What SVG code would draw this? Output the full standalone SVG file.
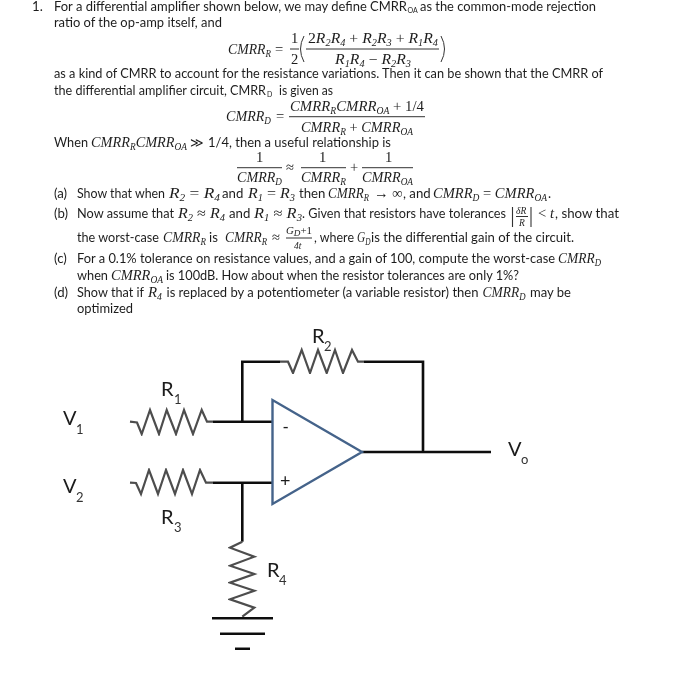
<svg xmlns="http://www.w3.org/2000/svg" width="700" height="679" viewBox="0 0 700 679">
<style>
text{fill:#1e1e1e;white-space:pre}
.t{font:13.2px Lato,"Open Sans",sans-serif}
.m{font:italic 14.6px "Liberation Serif",serif}
.u{font:14.6px "Liberation Serif",serif}
.f{font:italic 9.5px "Liberation Serif",serif}
.l{font:20px Lato,"Open Sans",sans-serif;fill:#1a1a1a}
.ls{font:13px Lato,"Open Sans",sans-serif;fill:#333}
.w{fill:none;stroke:#111;stroke-width:2.6}
.z{fill:none;stroke:#4d4d4d;stroke-width:2.2}
.b{stroke:#333;stroke-width:1;fill:none}
.sub{font-size:9.5px}
.ss{font-size:8px}
.o{font-size:7px}
</style>
<defs><filter id="soft" x="-2%" y="-2%" width="104%" height="104%"><feGaussianBlur stdDeviation="0.3"/></filter></defs>
<rect width="700" height="679" fill="#fff"/>
<g id="problem-text" filter="url(#soft)">
<text class="t" x="32" y="11">1.</text>
<text class="t" x="54" y="11" textLength="353" lengthAdjust="spacingAndGlyphs">For a differential amplifier shown below, we may define CMRR</text>
<text class="t o" x="407.5" y="13">OA</text>
<text class="t" x="420" y="11" textLength="176" lengthAdjust="spacingAndGlyphs">as the common-mode rejection</text>
<text class="t" x="54" y="27" textLength="168" lengthAdjust="spacingAndGlyphs">ratio of the op-amp itself, and</text>

<text class="m" x="228" y="54" textLength="43" lengthAdjust="spacingAndGlyphs">CMRR<tspan class="sub" dy="3">R</tspan></text>
<text class="u" x="275" y="54">=</text>
<text class="u" x="291" y="43">1</text><text class="u" x="291" y="64">2</text>
<path class="b" d="M290 49h9M306 49h133"/>
<path class="b" d="M304 36Q297 49 304 62M441 36Q448 49 441 62"/>
<text class="m" x="308" y="43" textLength="130" lengthAdjust="spacingAndGlyphs"><tspan class="u">2</tspan>R<tspan class="sub" dy="3">2</tspan><tspan dy="-3">R</tspan><tspan class="sub" dy="3">4</tspan><tspan class="u" dy="-3"> + </tspan>R<tspan class="sub" dy="3">2</tspan><tspan dy="-3">R</tspan><tspan class="sub" dy="3">3</tspan><tspan class="u" dy="-3"> + </tspan>R<tspan class="sub" dy="3">1</tspan><tspan dy="-3">R</tspan><tspan class="sub" dy="3">4</tspan></text>
<text class="m" x="335" y="64" textLength="76" lengthAdjust="spacingAndGlyphs">R<tspan class="sub" dy="3">1</tspan><tspan dy="-3">R</tspan><tspan class="sub" dy="3">4</tspan><tspan class="u" dy="-3"> − </tspan>R<tspan class="sub" dy="3">2</tspan><tspan dy="-3">R</tspan><tspan class="sub" dy="3">3</tspan></text>

<text class="t" x="54" y="78" textLength="549" lengthAdjust="spacingAndGlyphs">as a kind of CMRR to account for the resistance variations. Then it can be shown that the CMRR of</text>
<text class="t" x="54" y="95" textLength="212" lengthAdjust="spacingAndGlyphs">the differential amplifier circuit, CMRR</text>
<text class="t o" x="267" y="97">D</text>
<text class="t" x="279" y="95" textLength="54" lengthAdjust="spacingAndGlyphs">is given as</text>

<text class="m" x="226" y="121" textLength="45" lengthAdjust="spacingAndGlyphs">CMRR<tspan class="sub" dy="3">D</tspan></text>
<text class="u" x="276" y="121">=</text>
<path class="b" d="M289 116.7h136"/>
<text class="m" x="290" y="111" textLength="134" lengthAdjust="spacingAndGlyphs">CMRR<tspan class="sub" dy="3">R</tspan><tspan dy="-3">CMRR</tspan><tspan class="sub" dy="3">OA</tspan><tspan class="u" dy="-3"> + 1/4</tspan></text>
<text class="m" x="301" y="132" textLength="112" lengthAdjust="spacingAndGlyphs">CMRR<tspan class="sub" dy="3">R</tspan><tspan class="u" dy="-3"> + </tspan>CMRR<tspan class="sub" dy="3">OA</tspan></text>

<text class="t" x="54" y="147" textLength="34" lengthAdjust="spacingAndGlyphs">When</text>
<text class="m" x="91" y="147" textLength="96" lengthAdjust="spacingAndGlyphs">CMRR<tspan class="sub" dy="3">R</tspan><tspan dy="-3">CMRR</tspan><tspan class="sub" dy="3">OA</tspan></text>
<text class="u" x="190" y="147" style="font-size:13px">≫</text>
<text class="t" x="208" y="147" textLength="183" lengthAdjust="spacingAndGlyphs">1/4, then a useful relationship is</text>

<text class="u" x="256" y="162">1</text><text class="u" x="319" y="162">1</text><text class="u" x="385" y="162">1</text>
<path class="b" d="M237 167.7h45M301 167.7h45M362 167.7h51"/>
<text class="m" x="237" y="182" textLength="45" lengthAdjust="spacingAndGlyphs">CMRR<tspan class="sub" dy="3">D</tspan></text>
<text class="u" x="286" y="172">≈</text>
<text class="m" x="301" y="182" textLength="45" lengthAdjust="spacingAndGlyphs">CMRR<tspan class="sub" dy="3">R</tspan></text>
<text class="u" x="350" y="172">+</text>
<text class="m" x="362" y="182" textLength="51" lengthAdjust="spacingAndGlyphs">CMRR<tspan class="sub" dy="3">OA</tspan></text>

<text class="t" x="54" y="198">(a)</text>
<text class="t" x="77" y="198" textLength="88" lengthAdjust="spacingAndGlyphs">Show that when</text>
<text class="m" x="169" y="198" textLength="51" lengthAdjust="spacingAndGlyphs">R<tspan class="sub" dy="3">2</tspan><tspan class="u" dy="-3"> = </tspan>R<tspan class="sub" dy="3">4</tspan></text>
<text class="t" x="222" y="198">and</text>
<text class="m" x="248" y="198" textLength="47" lengthAdjust="spacingAndGlyphs">R<tspan class="sub" dy="3">1</tspan><tspan class="u" dy="-3"> = </tspan>R<tspan class="sub" dy="3">3</tspan></text>
<text class="t" x="299" y="198">then</text>
<text class="m" x="328" y="198" textLength="41" lengthAdjust="spacingAndGlyphs">CMRR<tspan class="sub" dy="3">R</tspan></text>
<text class="u" x="374" y="198">→ ∞</text>
<text class="t" x="403" y="198">, and</text>
<text class="m" x="433" y="198" textLength="114" lengthAdjust="spacingAndGlyphs">CMRR<tspan class="sub" dy="3">D</tspan><tspan class="u" dy="-3"> = </tspan>CMRR<tspan class="sub" dy="3">OA</tspan></text>
<text class="t" x="548" y="198">.</text>

<text class="t" x="54" y="218">(b)</text>
<text class="t" x="77" y="218" textLength="97" lengthAdjust="spacingAndGlyphs">Now assume that</text>
<text class="m" x="178" y="218" textLength="47" lengthAdjust="spacingAndGlyphs">R<tspan class="sub" dy="3">2</tspan><tspan class="u" dy="-3"> ≈ </tspan>R<tspan class="sub" dy="3">4</tspan></text>
<text class="t" x="229" y="218">and</text>
<text class="m" x="254" y="218" textLength="48" lengthAdjust="spacingAndGlyphs">R<tspan class="sub" dy="3">1</tspan><tspan class="u" dy="-3"> ≈ </tspan>R<tspan class="sub" dy="3">3</tspan></text>
<text class="t" x="302" y="218" textLength="204" lengthAdjust="spacingAndGlyphs">. Given that resistors have tolerances</text>
<path class="b" d="M512.5 207v20M531 207v20M516 216.500h12" style="stroke-width:1.1"/>
<text class="f" x="516" y="214">δR</text><text class="f" x="519" y="226">R</text>
<text class="u" x="538" y="218">&lt;</text><text class="m" x="550" y="218">t</text>
<text class="t" x="555" y="218" textLength="64" lengthAdjust="spacingAndGlyphs">, show that</text>

<text class="t" x="77" y="242" textLength="82" lengthAdjust="spacingAndGlyphs">the worst-case</text>
<text class="m" x="163" y="242" textLength="43" lengthAdjust="spacingAndGlyphs">CMRR<tspan class="sub" dy="3">R</tspan></text>
<text class="t" x="209" y="242">is</text>
<text class="m" x="225" y="242" textLength="42" lengthAdjust="spacingAndGlyphs">CMRR<tspan class="sub" dy="3">R</tspan></text>
<text class="u" x="272" y="242">≈</text>
<text class="f" x="286" y="234" textLength="26" lengthAdjust="spacingAndGlyphs">G<tspan class="ss" dy="2">D</tspan><tspan dy="-2" font-style="normal">+1</tspan></text>
<path class="b" d="M286 238h26"/>
<text class="f" x="294" y="249" font-style="normal">4<tspan font-style="italic">t</tspan></text>
<text class="t" x="314" y="242" textLength="40" lengthAdjust="spacingAndGlyphs">, where</text>
<text class="m" x="357" y="242" textLength="13.500" lengthAdjust="spacingAndGlyphs">G<tspan class="sub" dy="3">D</tspan></text>
<text class="t" x="371" y="242" textLength="203" lengthAdjust="spacingAndGlyphs">is the differential gain of the circuit.</text>

<text class="t" x="54" y="263">(c)</text>
<text class="t" x="77" y="263" textLength="478" lengthAdjust="spacingAndGlyphs">For a 0.1% tolerance on resistance values, and a gain of 100, compute the worst-case</text>
<text class="m" x="558" y="263" textLength="43" lengthAdjust="spacingAndGlyphs">CMRR<tspan class="sub" dy="3">D</tspan></text>
<text class="t" x="77" y="280" textLength="31" lengthAdjust="spacingAndGlyphs">when</text>
<text class="m" x="111" y="280" textLength="52" lengthAdjust="spacingAndGlyphs">CMRR<tspan class="sub" dy="3">OA</tspan></text>
<text class="t" x="166" y="280" textLength="353" lengthAdjust="spacingAndGlyphs">is 100dB. How about when the resistor tolerances are only 1%?</text>

<text class="t" x="54" y="297">(d)</text>
<text class="t" x="77" y="297" textLength="67" lengthAdjust="spacingAndGlyphs">Show that if</text>
<text class="m" x="148" y="297" textLength="14" lengthAdjust="spacingAndGlyphs">R<tspan class="sub" dy="3">4</tspan></text>
<text class="t" x="166.500" y="297" textLength="312" lengthAdjust="spacingAndGlyphs">is replaced by a potentiometer (a variable resistor) then</text>
<text class="m" x="482.500" y="297" textLength="43" lengthAdjust="spacingAndGlyphs">CMRR<tspan class="sub" dy="3">D</tspan></text>
<text class="t" x="530" y="297" textLength="41" lengthAdjust="spacingAndGlyphs">may be</text>
<text class="t" x="77" y="313" textLength="56" lengthAdjust="spacingAndGlyphs">optimized</text>
</g>

<g id="connectors" filter="url(#soft)">
<path class="w" d="M213 421.700H272"/>
<path class="w" d="M242.300 421.700V361.700H280"/>
<path class="w" d="M364 361.700H423V452"/>
<path class="w" d="M362 452H491"/>
<path class="w" d="M213 482.700H272"/>
<path class="w" d="M242.300 482.700V541.700"/>
</g>

<g id="r1" filter="url(#soft)">
<polyline class="z" points="130,421.7 137,422.5 141.7,434 150,410 159,434 166.7,410 176,434 184,410 193,434 201.7,410 207,421.7 213,421.7"/>
<text class="l" x="161" y="396">R</text><text class="ls" x="174" y="404">1</text>
</g>
<g id="r2" filter="url(#soft)">
<polyline class="z" points="280,361.7 288,361.7 293,373 301.7,350 310,373 318,350 326.7,373 335,350 343,373 352,350 358,361.7 364,361.7"/>
<text class="l" x="312" y="343">R</text><text class="ls" x="324" y="351">2</text>
</g>
<g id="r3" filter="url(#soft)">
<polyline class="z" points="130,482.7 136,483 141,494 149,470 158,494 166,470 175,494 183,470 192,494 200,470 206,482.7 213,482.7"/>
<text class="l" x="161" y="524">R</text><text class="ls" x="174" y="532">3</text>
</g>
<g id="r4" filter="url(#soft)">
<polyline class="z" points="242.3,541.7 230,547.7 254.3,556.7 230,565.7 254.3,574 230,582.7 254.3,590.7 230,599.3 254.3,607.7 242.3,616.7"/>
<text class="l" x="267" y="577">R</text><text class="ls" x="279" y="585">4</text>
</g>
<g id="opamp" filter="url(#soft)">
<path d="M272.500 400V504L362 452Z" fill="#fff" stroke="#44638a" stroke-width="2.400"/>
<text class="l" x="282.500" y="433" style="font-size:17px">-</text>
<text class="l" x="280" y="487" style="font-size:18px">+</text>
</g>
<g id="ground" filter="url(#soft)">
<path class="w" d="M212 618.300H273M220 633.700H265M235 648.700H250"/>
</g>
<g id="v1" filter="url(#soft)"><text class="l" x="63" y="425">V</text><text class="ls" x="76" y="434">1</text></g>
<g id="v2" filter="url(#soft)"><text class="l" x="63" y="493">V</text><text class="ls" x="76" y="502">2</text></g>
<g id="vo" filter="url(#soft)"><text class="l" x="508" y="456">V</text><text class="ls" x="521" y="464">o</text></g>
</svg>
